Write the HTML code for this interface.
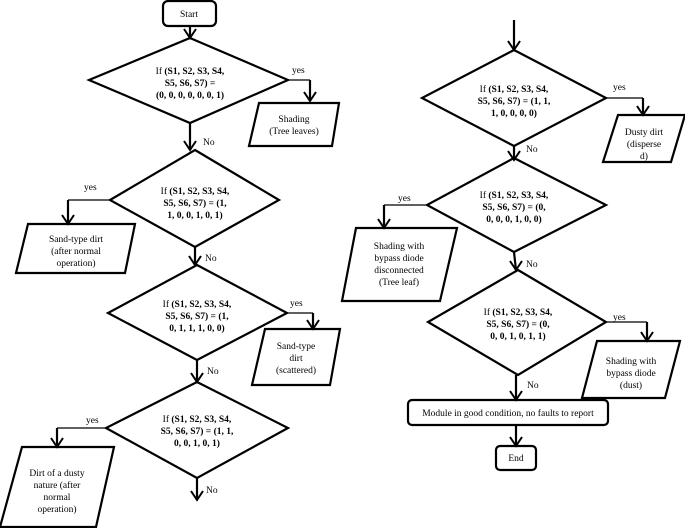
<!DOCTYPE html>
<html><head><meta charset="utf-8"><style>
html,body{margin:0;padding:0;background:#fff;}
svg{display:block;}
text{font-family:"Liberation Serif",serif;font-size:9.5px;fill:#000;}
.b{font-weight:bold;}
</style></head><body>
<svg width="685" height="528" viewBox="0 0 685 528" xmlns="http://www.w3.org/2000/svg">
<defs>
<g id="ah"><polyline points="-6,-9 0,0 6,-9" fill="none" stroke="#000" stroke-width="2"/></g>
</defs>
<g fill="none" stroke="#000" stroke-width="2.2" stroke-linejoin="miter">
<!-- Start -->
<rect x="163" y="1" width="53" height="25" rx="5"/>
<!-- diamonds -->
<polygon points="190,38 288,80 190,123 89,80"/>
<polygon points="195,150 279,200 195,247 110,200"/>
<polygon points="197,265 287,313 197,360 108,313"/>
<polygon points="197,382 288,428 197,478 106,428"/>
<polygon points="514,50 606,98 514,146 422,98"/>
<polygon points="514,158 606,205 514,252 427,205"/>
<polygon points="518,270 606,322 518,375 428,322"/>
<!-- parallelograms -->
<polygon points="259,103 339,103 332,146 249,146"/>
<polygon points="28,224 135,224 125,273 16,273"/>
<polygon points="265,329 340,329 330,385 252,385"/>
<polygon points="22,447 114,447 96,527 0,527"/>
<polygon points="618,115 685,115 671,162 603,162"/>
<polygon points="356,228 457,228 440,301 342,301"/>
<polygon points="597,341 680,341 665,398 582,398"/>
<!-- module / end -->
<rect x="408" y="400" width="200" height="25" rx="4"/>
<rect x="496" y="446" width="40" height="24" rx="4"/>
<!-- vertical arrows -->
<line x1="190" y1="26" x2="190" y2="38"/>
<line x1="190" y1="123" x2="190" y2="150"/>
<line x1="195" y1="247" x2="195" y2="265"/>
<line x1="197" y1="360" x2="197" y2="382"/>
<line x1="197" y1="478" x2="197" y2="500"/>
<line x1="514" y1="20" x2="514" y2="50"/>
<line x1="514" y1="146" x2="514" y2="160"/>
<line x1="514" y1="252" x2="516" y2="270"/>
<line x1="516" y1="375" x2="516" y2="400"/>
<line x1="516" y1="425" x2="516" y2="446"/>
<!-- yes branch verticals -->
<line x1="310" y1="80" x2="310" y2="101"/>
<line x1="68" y1="200" x2="68" y2="224"/>
<line x1="313" y1="313" x2="313" y2="329"/>
<line x1="57" y1="428" x2="57" y2="447"/>
<line x1="643" y1="98" x2="643" y2="115"/>
<line x1="384" y1="205" x2="384" y2="228"/>
<line x1="647" y1="322" x2="647" y2="341"/>
</g>
<g fill="none" stroke="#000" stroke-width="1.2">
<line x1="288" y1="80" x2="310" y2="80"/>
<line x1="110" y1="200" x2="68" y2="200"/>
<line x1="287" y1="313" x2="313" y2="313"/>
<line x1="106" y1="428" x2="57" y2="428"/>
<line x1="606" y1="98" x2="643" y2="98"/>
<line x1="427" y1="205" x2="384" y2="205"/>
<line x1="606" y1="322" x2="647" y2="322"/>
</g>
<use href="#ah" x="190" y="38"/>
<use href="#ah" x="190" y="150"/>
<use href="#ah" x="195" y="265"/>
<use href="#ah" x="197" y="382"/>
<use href="#ah" x="197" y="500"/>
<use href="#ah" x="514" y="50"/>
<use href="#ah" x="514" y="160"/>
<use href="#ah" x="516" y="270"/>
<use href="#ah" x="516" y="400"/>
<use href="#ah" x="516" y="446"/>
<use href="#ah" x="310" y="101"/>
<use href="#ah" x="68" y="224"/>
<use href="#ah" x="313" y="329"/>
<use href="#ah" x="57" y="447"/>
<use href="#ah" x="643" y="115"/>
<use href="#ah" x="384" y="228"/>
<use href="#ah" x="647" y="341"/>

<g text-anchor="middle">
<text x="189" y="17">Start</text>
<text x="190" y="74">If <tspan class="b">(S1, S2, S3, S4,</tspan></text>
<text x="190" y="86" class="b">S5, S6, S7) =</text>
<text x="190" y="98" class="b">(0, 0, 0, 0, 0, 0, 1)</text>

<text x="195" y="194">If <tspan class="b">(S1, S2, S3, S4,</tspan></text>
<text x="195" y="206" class="b">S5, S6, S7) = (1,</text>
<text x="195" y="218" class="b">1, 0, 0, 1, 0, 1)</text>

<text x="197" y="307">If <tspan class="b">(S1, S2, S3, S4,</tspan></text>
<text x="197" y="319" class="b">S5, S6, S7) = (1,</text>
<text x="197" y="331" class="b">0, 1, 1, 1, 0, 0)</text>

<text x="197" y="422">If <tspan class="b">(S1, S2, S3, S4,</tspan></text>
<text x="197" y="434" class="b">S5, S6, S7) = (1, 1,</text>
<text x="197" y="446" class="b">0, 0, 1, 0, 1)</text>

<text x="514" y="92">If <tspan class="b">(S1, S2, S3, S4,</tspan></text>
<text x="514" y="104" class="b">S5, S6, S7) = (1, 1,</text>
<text x="514" y="116" class="b">1, 0, 0, 0, 0)</text>

<text x="514" y="198">If <tspan class="b">(S1, S2, S3, S4,</tspan></text>
<text x="514" y="210" class="b">S5, S6, S7) = (0,</text>
<text x="514" y="222" class="b">0, 0, 0, 1, 0, 0)</text>

<text x="518" y="315">If <tspan class="b">(S1, S2, S3, S4,</tspan></text>
<text x="518" y="327" class="b">S5, S6, S7) = (0,</text>
<text x="518" y="339" class="b">0, 0, 1, 0, 1, 1)</text>

<text x="294" y="122">Shading</text>
<text x="294" y="134">(Tree leaves)</text>

<text x="76" y="242">Sand-type dirt</text>
<text x="76" y="254">(after normal</text>
<text x="76" y="266">operation)</text>

<text x="296" y="349">Sand-type</text>
<text x="296" y="361">dirt</text>
<text x="296" y="373">(scattered)</text>

<text x="57" y="476">Dirt of a dusty</text>
<text x="57" y="488">nature (after</text>
<text x="57" y="500">normal</text>
<text x="57" y="512">operation)</text>

<text x="644" y="135">Dusty dirt</text>
<text x="644" y="147">(disperse</text>
<text x="644" y="159">d)</text>

<text x="399" y="249">Shading with</text>
<text x="399" y="261">bypass diode</text>
<text x="399" y="273">disconnected</text>
<text x="399" y="285">(Tree leaf)</text>

<text x="631" y="364">Shading with</text>
<text x="631" y="376">bypass diode</text>
<text x="631" y="388">(dust)</text>

<text x="508" y="416">Module in good condition, no faults to report</text>
<text x="516" y="461">End</text>
</g>
<g>
<text x="292" y="73">yes</text>
<text x="84" y="190">yes</text>
<text x="290" y="306">yes</text>
<text x="86" y="423">yes</text>
<text x="613" y="90">yes</text>
<text x="398" y="201">yes</text>
<text x="613" y="320">yes</text>
<text x="203" y="145">No</text>
<text x="205" y="261">No</text>
<text x="207" y="374">No</text>
<text x="206" y="493">No</text>
<text x="526" y="152">No</text>
<text x="526" y="267">No</text>
<text x="527" y="388">No</text>
</g>
</svg>
</body></html>
